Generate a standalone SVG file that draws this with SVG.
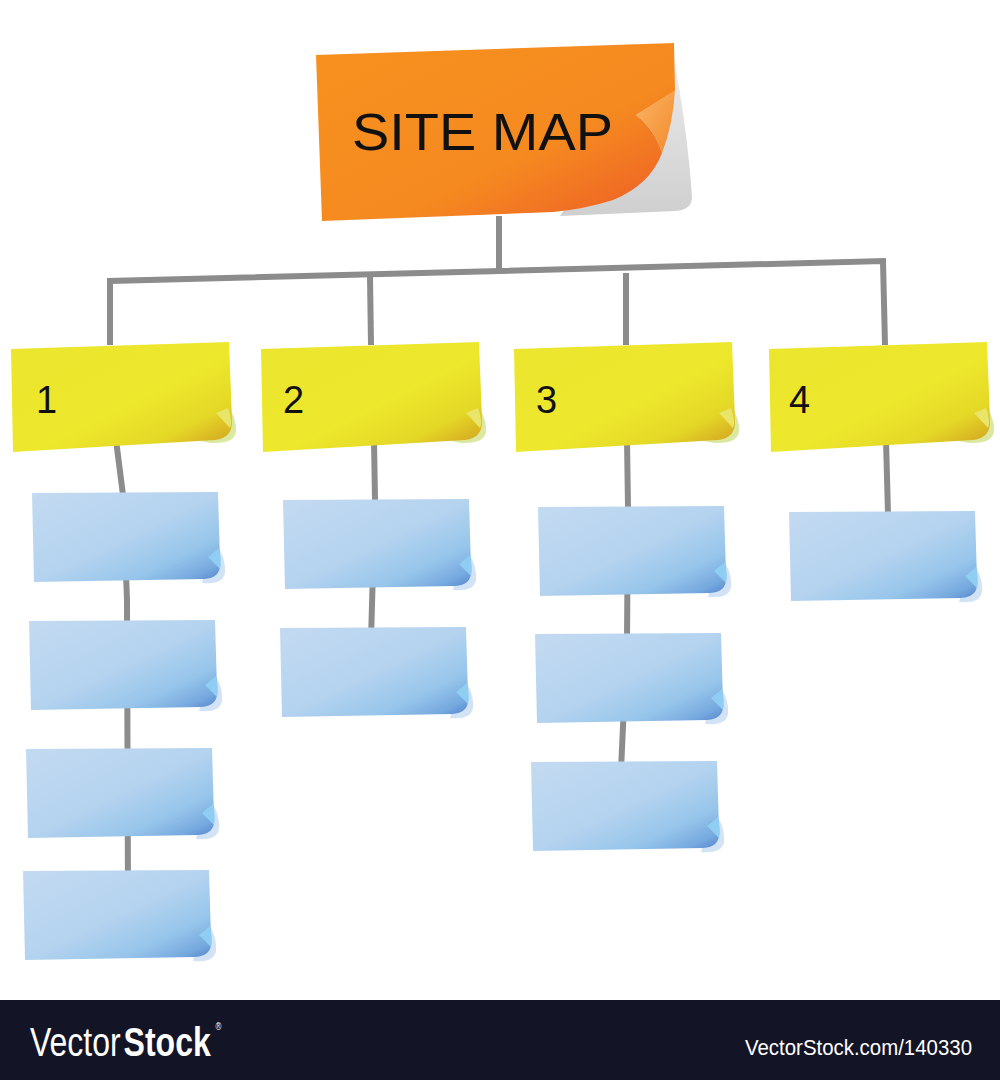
<svg xmlns="http://www.w3.org/2000/svg" width="1000" height="1080" viewBox="0 0 1000 1080">
<style>
.conn{fill:none;stroke:#8c8c8c;stroke-width:6;stroke-linejoin:miter}
.hand{font-family:"Liberation Sans","DejaVu Sans",sans-serif;fill:#111}
.foot{font-family:"Liberation Sans","DejaVu Sans",sans-serif;fill:#ffffff}
</style>
<defs>
<linearGradient id="gY" x1="0" y1="0" x2="1" y2="1">
<stop offset="0" stop-color="#ebe52e"/><stop offset="0.55" stop-color="#ede82c"/><stop offset="0.78" stop-color="#e4d826"/><stop offset="0.92" stop-color="#d6ae22"/><stop offset="1" stop-color="#c8861c"/>
</linearGradient>
<linearGradient id="gB" x1="0" y1="0" x2="1" y2="1">
<stop offset="0" stop-color="#c3daf1"/><stop offset="0.5" stop-color="#b4d3ef"/><stop offset="0.75" stop-color="#97c5ea"/><stop offset="0.9" stop-color="#75a8de"/><stop offset="1" stop-color="#4e80ca"/>
</linearGradient>
<linearGradient id="gO" x1="0" y1="0" x2="1" y2="1">
<stop offset="0" stop-color="#f7911e"/><stop offset="0.6" stop-color="#f58a20"/><stop offset="0.85" stop-color="#f06c24"/><stop offset="1" stop-color="#e9501f"/>
</linearGradient>
<linearGradient id="gFold" x1="0" y1="0" x2="1" y2="1">
<stop offset="0" stop-color="#fab565"/><stop offset="1" stop-color="#f38a2c"/>
</linearGradient>
<linearGradient id="gShadow" x1="0" y1="0" x2="0" y2="1">
<stop offset="0" stop-color="#ececec"/><stop offset="1" stop-color="#cfcfcf"/>
</linearGradient>
<path id="yShadow" d="M210,58 Q225,70 225,88 Q225,102 200,101 L190,99 Z" fill="#dbe8a0"/>
<path id="yShape" d="M0,7 L218,0 L221,78 Q222,96 204,98 L2,110 Z" fill="url(#gY)"/>
<path id="yCurl" d="M205,71 L217,66 Q222,79 219,86 Z" fill="#e9e46a"/>
<path id="bShadow" d="M180,48 Q194,60 193,80 Q191,92 170,90 Z" fill="#d3e3f6"/>
<path id="bShape" d="M0,0 L186,-1 L188,68 Q190,85 172,86 L2,89 Z" fill="url(#gB)"/>
<path id="bCurl" d="M176,64 L187,55 Q190,68 188,76 Z" fill="#8fcdf2"/>
</defs>
<rect x="0" y="0" width="1000" height="1000" fill="#ffffff"/>
<g id="connectors">
<path class="conn" d="M499,216 L499,273"/>
<path class="conn" d="M110,345 L110,281 L883,261 L885,345"/>
<path class="conn" d="M370,277 L371,345"/>
<path class="conn" d="M626,273 L626,345"/>
<path class="conn" d="M116,440 L123,495 L127,600 L128,900"/>
<path class="conn" d="M374,440 L375,500 L371,640"/>
<path class="conn" d="M627,440 L628,507 L627,640 L621,770"/>
<path class="conn" d="M886,440 L888,514"/>
</g>
<g id="sitemap">
<path d="M672,50 Q680,90 684,120 Q690,165 692,197 Q692,210 675,211 L560,216 Z" fill="url(#gShadow)"/>
<path d="M316,55 L674,43 L675,91 L636,115 Q655,130 662,153 Q650,185 613,200 Q585,209 553,212 L322,221 Z" fill="url(#gO)"/>
<path d="M675,90 L636,115 Q655,130 662,153 Q673,125 675,90 Z" fill="url(#gFold)"/>
<text class="hand" x="352" y="150" font-size="52" textLength="261" lengthAdjust="spacingAndGlyphs">SITE MAP</text>
</g>
<g id="y1" transform="translate(11,342)"><use href="#yShadow"/><use href="#yShape"/><use href="#yCurl"/><text class="hand" x="25" y="71" font-size="38">1</text></g>
<g id="y2" transform="translate(261,342)"><use href="#yShadow"/><use href="#yShape"/><use href="#yCurl"/><text class="hand" x="22" y="71" font-size="38">2</text></g>
<g id="y3" transform="translate(514,342)"><use href="#yShadow"/><use href="#yShape"/><use href="#yCurl"/><text class="hand" x="22" y="71" font-size="38">3</text></g>
<g id="y4" transform="translate(769,342)"><use href="#yShadow"/><use href="#yShape"/><use href="#yCurl"/><text class="hand" x="20" y="71" font-size="38">4</text></g>
<g id="b1a" transform="translate(32,493)"><use href="#bShadow"/><use href="#bShape"/><use href="#bCurl"/></g>
<g id="b1b" transform="translate(29,621)"><use href="#bShadow"/><use href="#bShape"/><use href="#bCurl"/></g>
<g id="b1c" transform="translate(26,749)"><use href="#bShadow"/><use href="#bShape"/><use href="#bCurl"/></g>
<g id="b1d" transform="translate(23,871)"><use href="#bShadow"/><use href="#bShape"/><use href="#bCurl"/></g>
<g id="b2a" transform="translate(283,500)"><use href="#bShadow"/><use href="#bShape"/><use href="#bCurl"/></g>
<g id="b2b" transform="translate(280,628)"><use href="#bShadow"/><use href="#bShape"/><use href="#bCurl"/></g>
<g id="b3a" transform="translate(538,507)"><use href="#bShadow"/><use href="#bShape"/><use href="#bCurl"/></g>
<g id="b3b" transform="translate(535,634)"><use href="#bShadow"/><use href="#bShape"/><use href="#bCurl"/></g>
<g id="b3c" transform="translate(531,762)"><use href="#bShadow"/><use href="#bShape"/><use href="#bCurl"/></g>
<g id="b4a" transform="translate(789,512)"><use href="#bShadow"/><use href="#bShape"/><use href="#bCurl"/></g>
<g id="footer">
<rect x="0" y="1000" width="1000" height="80" fill="#131425"/>
<g transform="translate(30,1056) scale(0.8,1)">
<text class="foot" x="0" y="0" font-size="40" font-weight="300">Vector</text>
<text class="foot" x="117" y="0" font-size="40" font-weight="bold">Stock</text>
<text class="foot" x="232" y="-26" font-size="10">®</text>
</g>
<text class="foot" x="745" y="1055" font-size="22" textLength="227" lengthAdjust="spacingAndGlyphs">VectorStock.com/140330</text>
</g>
</svg>
